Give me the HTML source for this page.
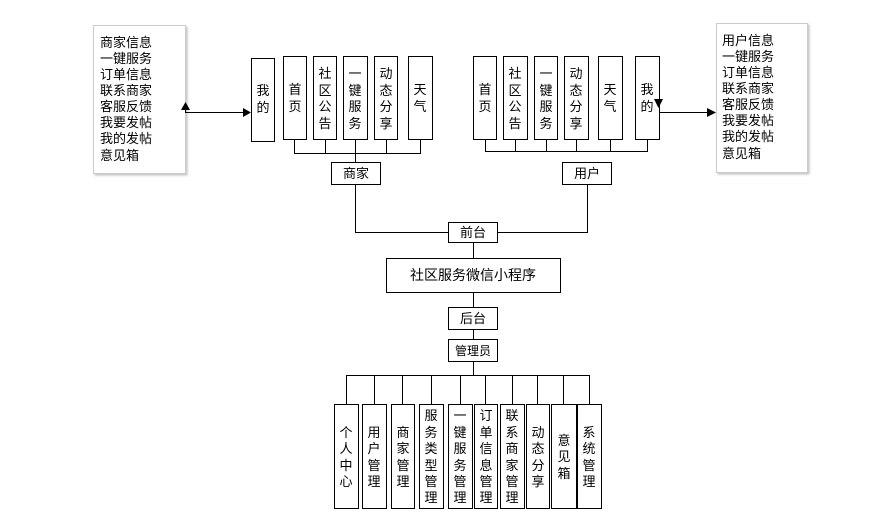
<!DOCTYPE html><html><head><meta charset="utf-8"><style>body{margin:0;background:#fff}svg{display:block}text{font-family:"Liberation Sans","Noto Sans CJK SC",sans-serif;font-size:13px;fill:#000}</style></head><body>
<svg width="889" height="518" xmlns="http://www.w3.org/2000/svg">
<defs><filter id="s" x="-10%" y="-10%" width="130%" height="130%"><feDropShadow dx="1.5" dy="1.5" stdDeviation="1" flood-color="#999" flood-opacity="0.6"/></filter></defs>
<g stroke="#000" stroke-width="1" fill="none">
<!-- left list -->
<rect x="93.5" y="25.5" width="92" height="148" stroke="#ccc" fill="#fff" filter="url(#s)"/>
<rect x="716.5" y="23.5" width="91" height="149" stroke="#ccc" fill="#fff" filter="url(#s)"/>
<!-- left arrows -->
<line x1="185.5" y1="104" x2="185.5" y2="112.5"/>
<line x1="185" y1="112.5" x2="243" y2="112.5"/>
<!-- right arrows -->
<line x1="659" y1="112.5" x2="713" y2="112.5"/>
<!-- left group boxes -->
<g fill="#fff">
<rect x="251.5" y="58.5" width="23" height="83"/>
<rect x="283.5" y="56.5" width="23" height="83"/>
<rect x="313.5" y="56.5" width="23" height="83"/>
<rect x="343.5" y="56.5" width="24" height="83"/>
<rect x="374.5" y="56.5" width="23" height="83"/>
<rect x="408.5" y="56.5" width="24" height="83"/>
<rect x="473.5" y="56.5" width="23" height="83"/>
<rect x="503.5" y="56.5" width="24" height="83"/>
<rect x="534.5" y="56.5" width="23" height="83"/>
<rect x="564.5" y="56.5" width="24" height="83"/>
<rect x="598.5" y="56.5" width="24" height="83"/>
<rect x="635.5" y="56.5" width="24" height="83"/>
<rect x="331.5" y="162.5" width="49" height="22"/>
<rect x="562.5" y="162.5" width="49" height="22"/>
<rect x="448.5" y="222.5" width="49" height="20"/>
<rect x="386.5" y="258.5" width="174" height="34"/>
<rect x="448.5" y="307.5" width="49" height="22"/>
<rect x="448.5" y="339.5" width="49" height="22"/>
</g>
<path d="M294.5 140V153.5H420.5V140M325.5 140V153.5M355.5 140V162M386.5 140V153.5M355.5 185V232.5H448"/>
<path d="M485.5 140V151.5H647.5V140M515.5 140V151.5M546.5 140V151.5M576.5 140V151.5M610.5 140V151.5M587.5 185V232.5H497"/>
<path d="M473.5 243V258M473.5 293V307M473.5 330V339M473.5 362V375.5"/>
<path d="M346.5 375.5H589.5"/>
<path d="M346.5 375V404M374.5 375V404M402.5 375V404M431.5 375V404M460.5 375V404M485.5 375V404M512.5 375V404M537.5 375V404M563.5 375V404M589.5 375V404"/>
<g fill="#fff">
<rect x="334.5" y="404.5" width="24" height="104"/>
<rect x="362.5" y="404.5" width="24" height="104"/>
<rect x="391.5" y="404.5" width="23" height="104"/>
<rect x="419.5" y="404.5" width="24" height="104"/>
<rect x="448.5" y="404.5" width="24" height="104"/>
<rect x="474.5" y="404.5" width="23" height="104"/>
<rect x="500.5" y="404.5" width="24" height="104"/>
<rect x="526.5" y="404.5" width="23" height="104"/>
<rect x="551.5" y="404.5" width="25" height="104"/>
<rect x="577.5" y="404.5" width="24" height="104"/>
</g>
</g>
<polygon points="181,110 190,110 185.5,102" fill="#000"/>
<polygon points="243,108 251,112.5 243,117" fill="#000"/>
<polygon points="707,108 716,112.5 707,117" fill="#000"/>
<polygon points="654,99 663,99 658.5,108" fill="#000"/>
<g>
<text x="100" y="47">商家信息</text><text x="100" y="63">一键服务</text><text x="100" y="79">订单信息</text><text x="100" y="95">联系商家</text><text x="100" y="111">客服反馈</text><text x="100" y="127">我要发帖</text><text x="100" y="143">我的发帖</text><text x="100" y="160">意见箱</text>
<text x="722" y="45">用户信息</text><text x="722" y="61">一键服务</text><text x="722" y="77">订单信息</text><text x="722" y="93">联系商家</text><text x="722" y="109">客服反馈</text><text x="722" y="125">我要发帖</text><text x="722" y="141">我的发帖</text><text x="722" y="158">意见箱</text>
</g>
<g text-anchor="middle">
<text x="263" y="95">我</text><text x="263" y="112">的</text>
<text x="295" y="94">首</text><text x="295" y="111">页</text>
<text x="325" y="78">社</text><text x="325" y="95">区</text><text x="325" y="111">公</text><text x="325" y="128">告</text>
<text x="355" y="78">一</text><text x="355" y="95">键</text><text x="355" y="111">服</text><text x="355" y="128">务</text>
<text x="386" y="78">动</text><text x="386" y="95">态</text><text x="386" y="111">分</text><text x="386" y="128">享</text>
<text x="420" y="94">天</text><text x="420" y="111">气</text>
<text x="485" y="94">首</text><text x="485" y="111">页</text>
<text x="515" y="78">社</text><text x="515" y="95">区</text><text x="515" y="111">公</text><text x="515" y="128">告</text>
<text x="546" y="78">一</text><text x="546" y="95">键</text><text x="546" y="111">服</text><text x="546" y="128">务</text>
<text x="576" y="78">动</text><text x="576" y="95">态</text><text x="576" y="111">分</text><text x="576" y="128">享</text>
<text x="610" y="94">天</text><text x="610" y="111">气</text>
<text x="647" y="94">我</text><text x="647" y="111">的</text>
<text x="356" y="178">商家</text><text x="587" y="178">用户</text>
<text x="473" y="237">前台</text>
<text x="473" y="280" style="font-size:14px">社区服务微信小程序</text>
<text x="473" y="323">后台</text>
<text x="473" y="355" style="font-size:12px">管理员</text>
</g>
<g text-anchor="middle">
<text x="346" y="437">个</text><text x="346" y="453">人</text><text x="346" y="470">中</text><text x="346" y="486">心</text>
<text x="374" y="437">用</text><text x="374" y="453">户</text><text x="374" y="470">管</text><text x="374" y="486">理</text>
<text x="403" y="437">商</text><text x="403" y="453">家</text><text x="403" y="470">管</text><text x="403" y="486">理</text>
<text x="431" y="420">服</text><text x="431" y="437">务</text><text x="431" y="453">类</text><text x="431" y="470">型</text><text x="431" y="486">管</text><text x="431" y="502">理</text>
<text x="460" y="420">一</text><text x="460" y="437">键</text><text x="460" y="453">服</text><text x="460" y="470">务</text><text x="460" y="486">管</text><text x="460" y="502">理</text>
<text x="486" y="420">订</text><text x="486" y="437">单</text><text x="486" y="453">信</text><text x="486" y="470">息</text><text x="486" y="486">管</text><text x="486" y="502">理</text>
<text x="512" y="420">联</text><text x="512" y="437">系</text><text x="512" y="453">商</text><text x="512" y="470">家</text><text x="512" y="486">管</text><text x="512" y="502">理</text>
<text x="538" y="437">动</text><text x="538" y="453">态</text><text x="538" y="470">分</text><text x="538" y="486">享</text>
<text x="564" y="445">意</text><text x="564" y="461">见</text><text x="564" y="478">箱</text>
<text x="589" y="437">系</text><text x="589" y="453">统</text><text x="589" y="470">管</text><text x="589" y="486">理</text>
</g>
</svg></body></html>
